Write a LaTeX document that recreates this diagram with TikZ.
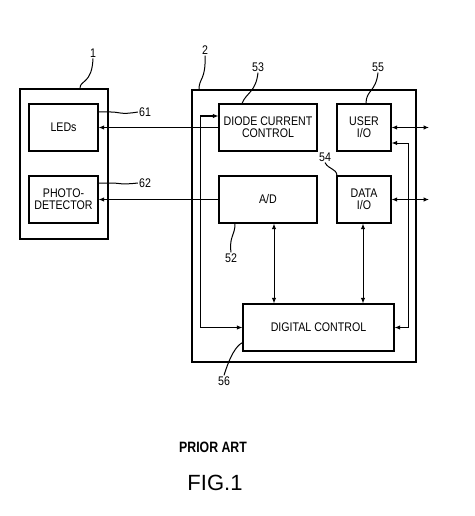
\documentclass[tikz,border=0pt]{standalone}
\usepackage{fontspec}
\setmainfont{Liberation Sans}
\newfontfamily\narrowfont[FakeStretch=0.85]{Liberation Sans}
\newfontfamily\narrowbold[FakeStretch=0.82]{Liberation Sans Bold}
\usetikzlibrary{arrows.meta}
\tikzset{
  outer/.style={draw, line width=1.8pt, inner sep=0pt},
  blk/.style={draw, line width=1.2pt, inner sep=0pt, align=center,
    font=\narrowfont\fontsize{12.5}{12}\selectfont},
  lbl/.style={font=\narrowfont\fontsize{12.5}{12}\selectfont, inner sep=1pt},
  lead/.style={line width=1pt},
  conn/.style={line width=1pt, -{Latex[length=5.5pt,width=4.5pt]}},
  dconn/.style={line width=1pt, {Latex[length=5.5pt,width=4.5pt]}-{Latex[length=5.5pt,width=4.5pt]}}
}
\begin{document}
\begin{tikzpicture}[x=1pt,y=-1pt]
\useasboundingbox[fill=white] (0,0) rectangle (474,516);
% outer boxes
\node[outer, minimum width=88pt, minimum height=150pt] (b1) at (64,164) {};
\node[outer, minimum width=224pt, minimum height=272pt] (b2) at (304,226) {};
% inner blocks
\node[blk, minimum width=69pt, minimum height=47pt] (leds) at (63.5,127.5) {LEDs};
\node[blk, minimum width=69pt, minimum height=47pt] (photo) at (63.5,199.5) {PHOTO-\\DETECTOR};
\node[blk, minimum width=98pt, minimum height=47pt] (dcc) at (268,127.5) {DIODE CURRENT\\CONTROL};
\node[blk, minimum width=54pt, minimum height=47pt] (uio) at (364,127.5) {USER\\I/O};
\node[blk, minimum width=98pt, minimum height=47pt] (ad) at (268,199.5) {A/D};
\node[blk, minimum width=54pt, minimum height=47pt] (dio) at (364,199.5) {DATA\\I/O};
\node[blk, minimum width=151pt, minimum height=47pt] (dig) at (318.5,327.5) {DIGITAL CONTROL};
% free ends
\coordinate (ue) at (429,127.5);
\coordinate (de) at (429,199.5);
% connectors
\draw[conn] (dcc.west) -- (leds.east);
\draw[conn] (ad.west) -- (photo.east);
\draw[dconn] ([yshift=11.5pt]dcc.west) -- ++(-18,0) |- (dig.west);
\draw[dconn] ([yshift=-15.5pt]uio.east) -- ++(17,0) |- (dig.east);
\draw[dconn] ([xshift=6pt]ad.south) -- ([xshift=6pt]ad.south |- dig.north);
\draw[dconn] ([xshift=-1pt]dio.south) -- ([xshift=-1pt]dio.south |- dig.north);
\draw[dconn] (uio.east) -- (ue);
\draw[dconn] (dio.east) -- (de);
% labels
\node[lbl] (l1) at (93,53) {1};
\node[lbl] (l2) at (205,50) {2};
\node[lbl] (l61) at (145,112) {61};
\node[lbl] (l62) at (145,183) {62};
\node[lbl] (l53) at (258,67) {53};
\node[lbl] (l55) at (378,67) {55};
\node[lbl] (l54) at (325,157) {54};
\node[lbl] (l52) at (231,258) {52};
\node[lbl] (l56) at (224,381) {56};
% leaders
\draw[lead] (b1.north -| 80,0) .. controls (80,80) and (92,84) .. (l1.south);
\draw[lead] (b2.north -| 199,0) .. controls (199,78) and (206,80) .. (l2.south);
\draw[lead] (leds.east |- 0,112) -- (111,112) .. controls (120,112) and (120,115) .. (l61.west);
\draw[lead] (photo.east |- 0,183) -- (111,183) .. controls (120,183) and (120,185) .. (l62.west);
\draw[lead] (dcc.north -| 242,0) .. controls (246,93) and (256,92) .. (l53.south);
\draw[lead] (uio.north -| 366,0) .. controls (366,90) and (376,92) .. (l55.south);
\draw[lead] (dio.north -| 337,0) .. controls (336,168) and (329,170) .. (l54.south);
\draw[lead] (ad.south -| 235,0) .. controls (235,236) and (229,236) .. (l52.north);
\draw[lead] ([yshift=9pt]dig.south west) .. controls (236,346) and (230,356) .. (l56.north);
% captions
\node[font=\narrowbold\fontsize{15}{15}\selectfont, inner sep=0pt] (prior) at (213,447) {PRIOR ART};
\node[font=\fontsize{22}{22}\selectfont, inner sep=0pt] (fig) at (215,483) {FIG.1};
\end{tikzpicture}
\end{document}
